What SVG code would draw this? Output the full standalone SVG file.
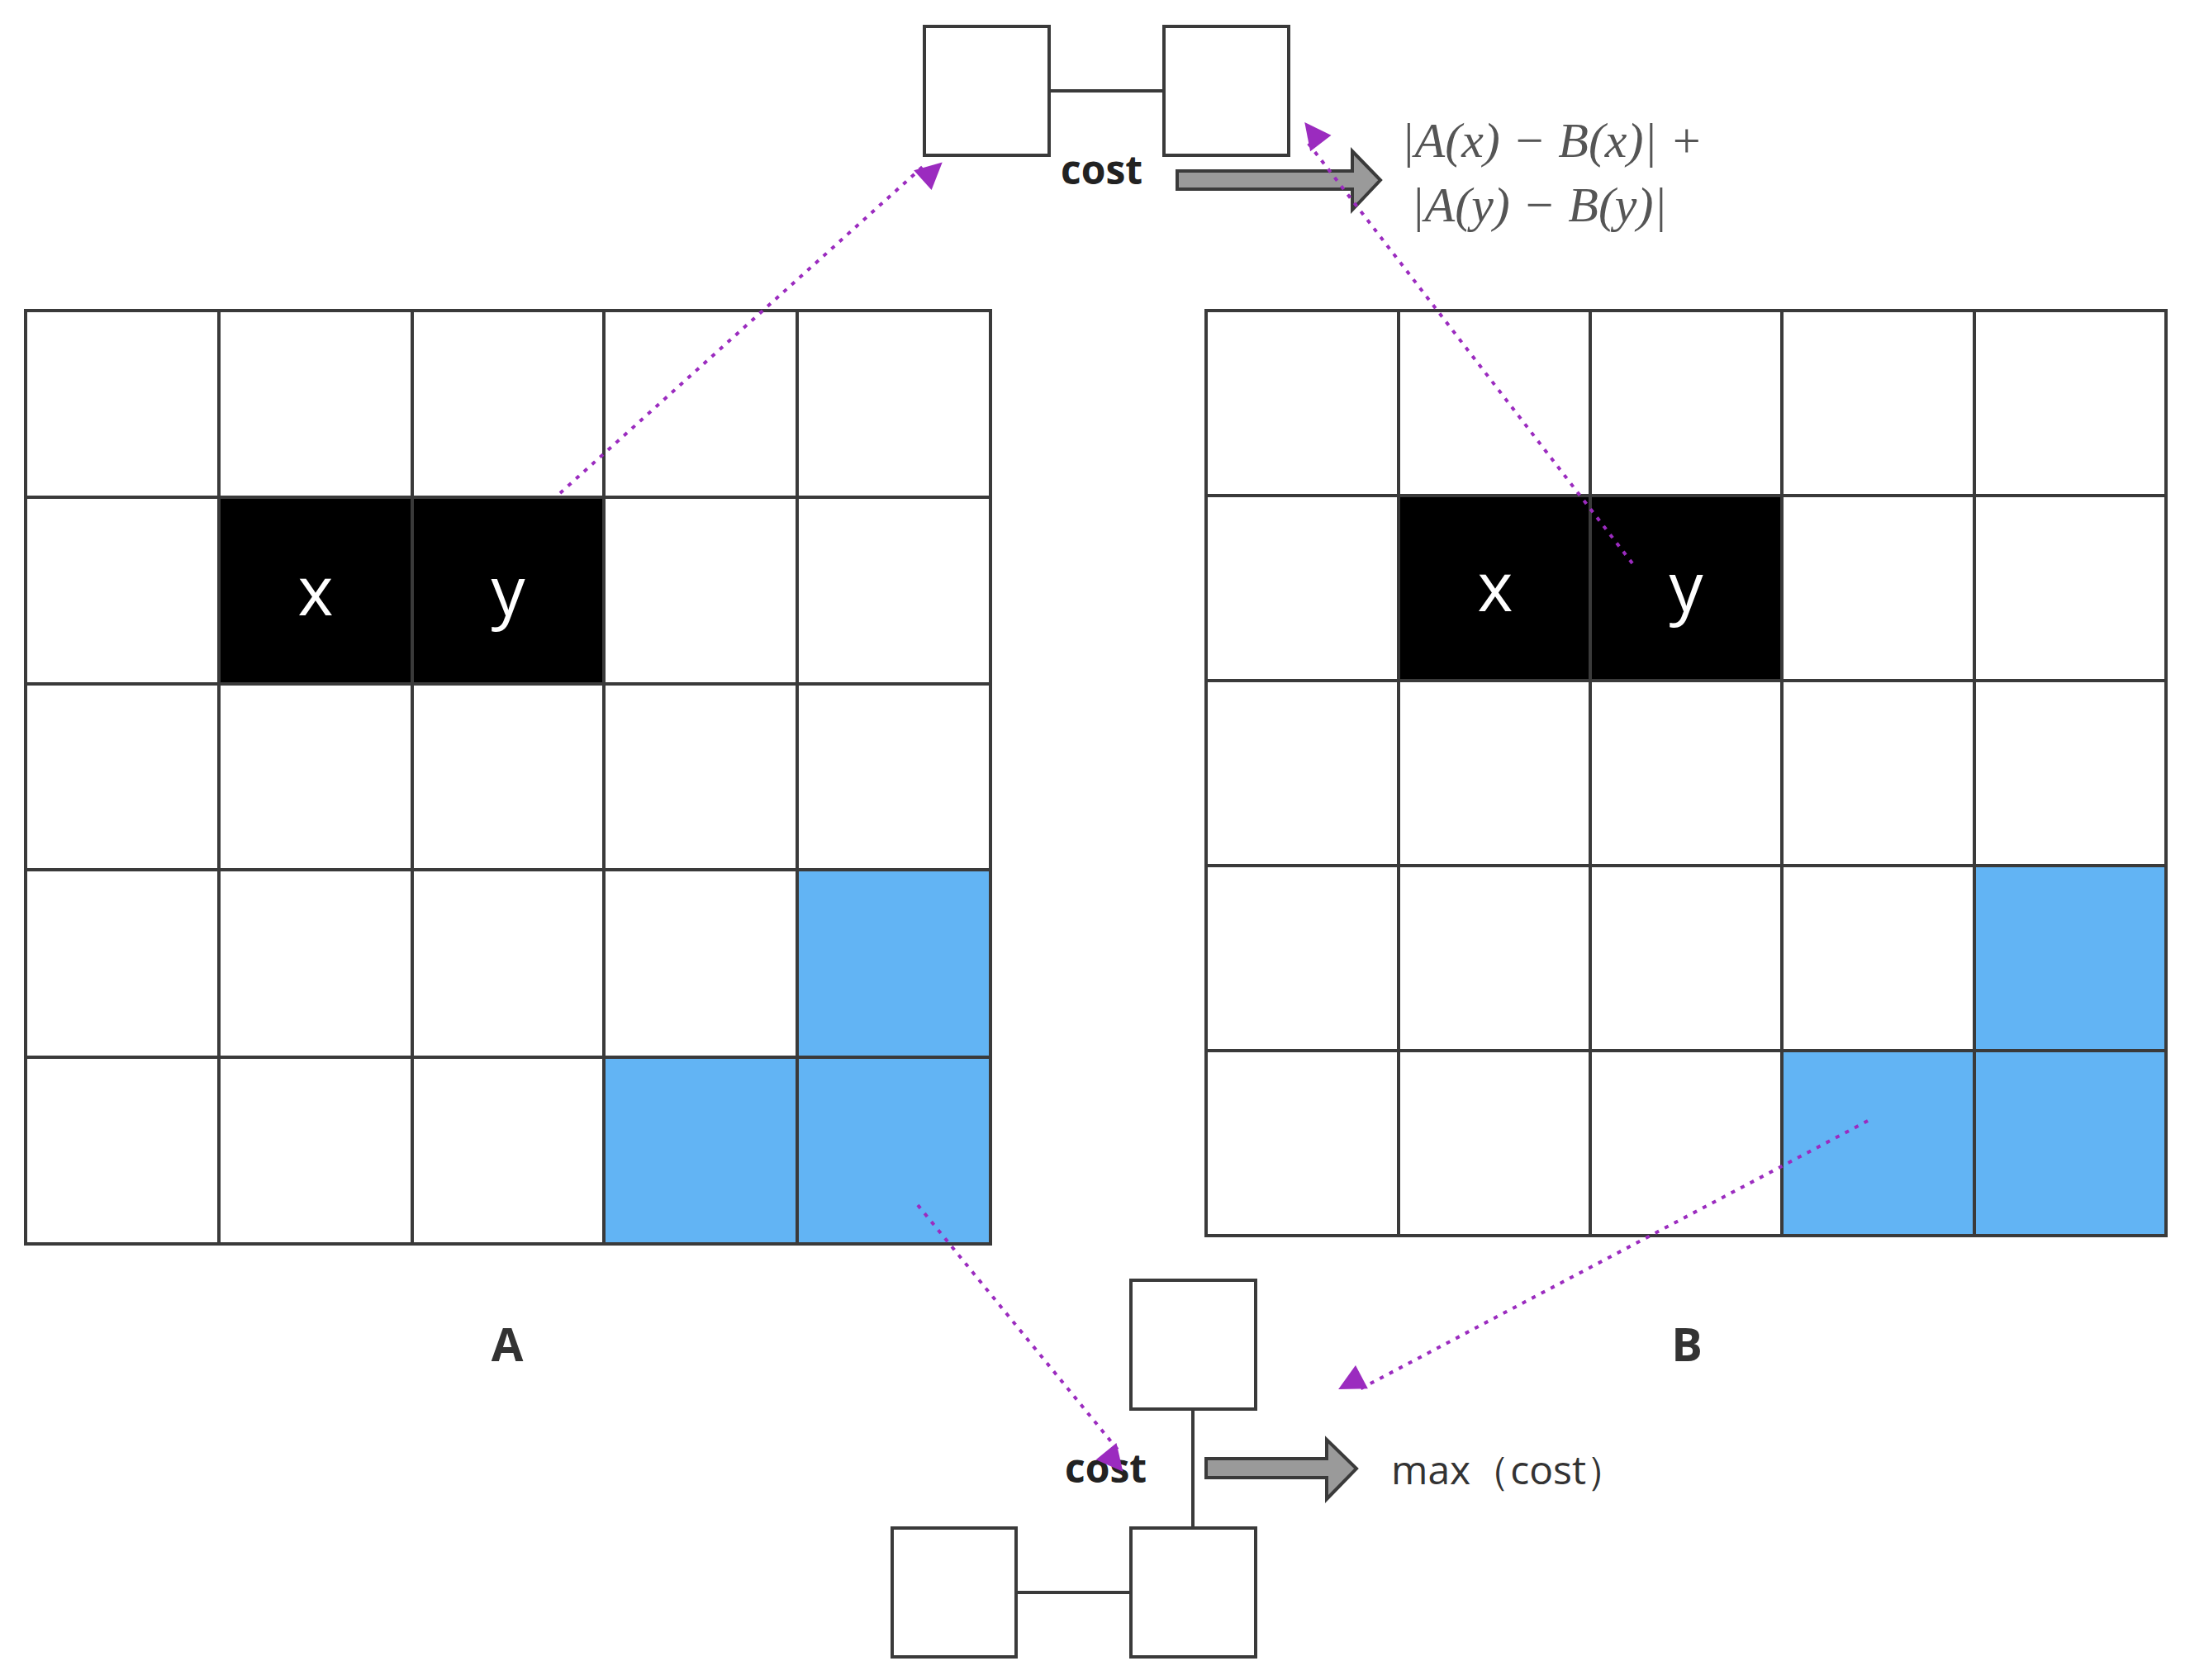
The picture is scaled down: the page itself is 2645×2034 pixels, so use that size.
<svg xmlns="http://www.w3.org/2000/svg" width="2645" height="2034" viewBox="0 0 2645 2034">
<style>
.c{fill:#fff;stroke:#3a3a3a;stroke-width:4}
.k{fill:#000;stroke:#3a3a3a;stroke-width:4}
.b{fill:#62b4f4;stroke:#3a3a3a;stroke-width:4}
.ln{stroke:#3a3a3a;stroke-width:4;fill:none}
.d{stroke:#9b2bbf;stroke-width:4;stroke-dasharray:5 8;fill:none;marker-end:url(#m)}
.ga{fill:#9a9a9a;stroke:#3a3a3a;stroke-width:4}
.t{font-family:"Open Sans","DejaVu Sans",sans-serif}
.f{font-family:"Liberation Serif",serif;font-style:italic;font-size:60px;fill:#555}
</style>
<defs>
<marker id="m" viewBox="0 0 10 10" refX="9" refY="5" markerWidth="8" markerHeight="8" orient="auto" markerUnits="userSpaceOnUse" style="overflow:visible">
<path d="M0,0 L10,5 L0,10 z" fill="#9b2bbf" transform="scale(4) translate(-2,0)"/>
</marker>
</defs>
<g id="gridA">
<rect class="c" x="31" y="376" width="1168" height="1130"/>
<rect class="k" x="265" y="602" width="234" height="226"/>
<rect class="k" x="499" y="602" width="232" height="226"/>
<rect class="b" x="965" y="1053" width="234" height="227"/>
<rect class="b" x="731" y="1280" width="234" height="226"/>
<rect class="b" x="965" y="1280" width="234" height="226"/>
<path class="ln" d="M265,376V1506M499,376V1506M731,376V1506M965,376V1506M31,602H1199M31,828H1199M31,1053H1199M31,1280H1199"/>
<text class="t" x="382" y="745" font-size="82" fill="#fff" text-anchor="middle">x</text>
<text class="t" x="615" y="745" font-size="82" fill="#fff" text-anchor="middle">y</text>
<text class="t" x="614" y="1648" font-size="56" font-weight="bold" fill="#333" text-anchor="middle">A</text>
</g>
<g id="gridB">
<rect class="c" x="1460" y="376" width="1162" height="1120"/>
<rect class="k" x="1693" y="600" width="232" height="224"/>
<rect class="k" x="1925" y="600" width="232" height="224"/>
<rect class="b" x="2390" y="1048" width="232" height="224"/>
<rect class="b" x="2157" y="1272" width="233" height="224"/>
<rect class="b" x="2390" y="1272" width="232" height="224"/>
<path class="ln" d="M1693,376V1496M1925,376V1496M2157,376V1496M2390,376V1496M1460,600H2622M1460,824H2622M1460,1048H2622M1460,1272H2622"/>
<text class="t" x="1810" y="740" font-size="82" fill="#fff" text-anchor="middle">x</text>
<text class="t" x="2041" y="740" font-size="82" fill="#fff" text-anchor="middle">y</text>
<text class="t" x="2042" y="1648" font-size="56" font-weight="bold" fill="#333" text-anchor="middle">B</text>
</g>
<g id="topPair">
<rect class="c" x="1119" y="32" width="151" height="156"/>
<rect class="c" x="1409" y="32" width="151" height="156"/>
<line class="ln" x1="1270" y1="110" x2="1409" y2="110"/>
<text class="t" x="1284" y="223" font-size="48" font-weight="bold" fill="#222">cost</text>
<path class="ga" d="M1425,207H1637V183L1671,218L1637,254V229H1425z"/>
<text class="f" x="1696" y="190">|A(x) − B(x)| +</text>
<text class="f" x="1708" y="268">|A(y) −  B(y)|</text>
</g>
<g id="bottomTree">
<rect class="c" x="1369" y="1550" width="151" height="156"/>
<rect class="c" x="1369" y="1850" width="151" height="156"/>
<rect class="c" x="1080" y="1850" width="150" height="156"/>
<line class="ln" x1="1444" y1="1706" x2="1444" y2="1850"/>
<line class="ln" x1="1230" y1="1928" x2="1369" y2="1928"/>
<text class="t" x="1289" y="1795" font-size="48" font-weight="bold" fill="#222">cost</text>
<path class="ga" d="M1460,1766H1606V1743L1642,1778L1606,1815V1789H1460z"/>
<text class="t" x="1684" y="1797" font-size="48" fill="#333">max（cost）</text>
</g>
<g id="connectors">
<line class="d" x1="678" y1="597" x2="1119" y2="200"/>
<line class="d" x1="1976" y1="682" x2="1581" y2="170"/>
<line class="d" x1="1111" y1="1459" x2="1357" y2="1760"/>
<line class="d" x1="2261" y1="1357" x2="1642" y2="1684"/>
</g>
</svg>
